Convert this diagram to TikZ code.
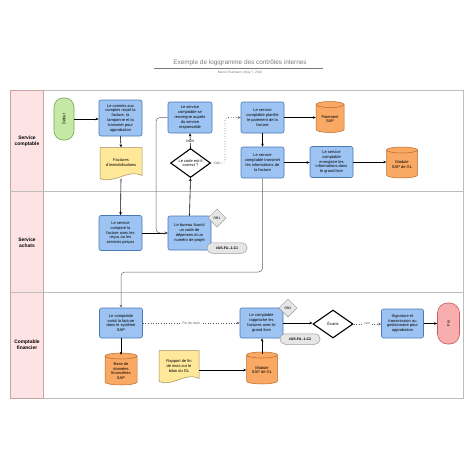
\documentclass[tikz,border=0pt]{standalone}
\usepackage{fontspec}
\setmainfont{Liberation Sans}
\usetikzlibrary{shapes.geometric,arrows.meta,calc}
\definecolor{procfill}{HTML}{9DC3F2}
\definecolor{procdraw}{HTML}{4A78B5}
\definecolor{docfill}{HTML}{FFE89A}
\definecolor{docdraw}{HTML}{9C8E5A}
\definecolor{cylfill}{HTML}{F9A964}
\definecolor{cyldraw}{HTML}{B86A2A}
\definecolor{startfill}{HTML}{C6E8A6}
\definecolor{startdraw}{HTML}{76A852}
\definecolor{endfill}{HTML}{F8AEAE}
\definecolor{enddraw}{HTML}{C85A5A}
\definecolor{lanefill}{HTML}{FDE3E3}
\definecolor{lanedraw}{HTML}{C9A3A3}
\definecolor{gridline}{HTML}{BDBDBD}
\definecolor{tagfill}{HTML}{E6E6E6}
\definecolor{tagdraw}{HTML}{9A9A9A}
\definecolor{titlegray}{HTML}{7A7A7A}
\newcommand\mydoc[6]{%
 \filldraw[docshape] ({#2-#4/2},{#3-#5/2}) -- ({#2+#4/2},{#3-#5/2}) -- ({#2+#4/2},{#3+#5/2-3})
   .. controls ({#2+#4/6},{#3+#5/2-10}) and ({#2-#4/6},{#3+#5/2+6}) .. ({#2-#4/2},{#3+#5/2}) -- cycle;
 \node[doctext,minimum width=#4pt,minimum height=#5pt] (#1) at (#2,#3) {#6};
}
\newcommand\mycyl[6]{%
 \filldraw[cylshape] ({#2-#4/2},{#3-#5/2+3}) -- ({#2-#4/2},{#3+#5/2-3})
   arc[start angle=180,end angle=360,x radius=#4pt/2,y radius=3pt] -- ({#2+#4/2},{#3-#5/2+3})
   arc[start angle=0,end angle=180,x radius=#4pt/2,y radius=3pt] -- cycle;
 \draw[cylshape,fill=none] ({#2-#4/2},{#3-#5/2+3}) arc[start angle=180,end angle=360,x radius=#4pt/2,y radius=3pt];
 \node[cyltext,minimum width=#4pt,minimum height=#5pt] (#1) at (#2,{#3+2}) {#6};
}
\begin{document}
\begin{tikzpicture}[x=1pt,y=-1pt,
  boxfont/.style={font=\fontsize{4.0}{4.8}\selectfont},
  proc/.style={boxfont,draw=procdraw,fill=procfill,line width=0.6pt,rounded corners=2pt,align=center,inner sep=0pt},
  docshape/.style={draw=docdraw,fill=docfill,line width=0.5pt},
  doctext/.style={boxfont,align=center,inner sep=0pt},
  cylshape/.style={draw=cyldraw,fill=cylfill,line width=0.5pt},
  cyltext/.style={boxfont,align=center,inner sep=0pt},
  decision/.style={boxfont,diamond,draw=black,fill=white,line width=1.1pt,aspect=1.4,align=center,inner sep=0pt},
  rb/.style={font=\fontsize{3.4}{4}\selectfont,diamond,draw=tagdraw,fill=tagfill,line width=0.5pt,minimum width=18pt,minimum height=18pt,inner sep=0pt},
  tag/.style={font=\bfseries\fontsize{3.6}{4}\selectfont,draw=tagdraw,fill=tagfill,line width=0.5pt,rounded corners=5pt,minimum width=40pt,minimum height=10.5pt,inner sep=0pt},
  term/.style={boxfont,line width=0.6pt,rounded corners=9pt,inner sep=0pt},
  arr/.style={-{Stealth[length=3pt,width=2.6pt]},line width=0.6pt,black},
  looparr/.style={-{Stealth[length=3pt,width=2.6pt]},line width=0.5pt,gray!75!black,rounded corners=4pt},
  dotarr/.style={-{Stealth[length=3pt,width=2.6pt]},line width=0.6pt,gray!70!black,dotted},
  lbl/.style={font=\fontsize{3.4}{4}\selectfont,fill=white,inner sep=0.6pt},
  lanelbl/.style={font=\bfseries\fontsize{4.9}{5.9}\selectfont,align=center}
]
\useasboundingbox (0,0) rectangle (474,474);
% title
\node[font=\fontsize{6.4}{7}\selectfont,text=titlegray] (title) at (240,63) {Exemple de logigramme des contrôles internes};
\draw[titlegray,line width=0.5pt] (154,68.5) -- (323,68.5);
\node[font=\fontsize{3.2}{4}\selectfont,text=titlegray] (sub) at (240,73) {Benoit Thalmann | May 7, 2016};
% lanes
\draw[gridline,line width=0.6pt] (10,90) rectangle (463,398);
\filldraw[fill=lanefill,draw=lanedraw,line width=0.5pt] (10,90) rectangle (43,398);
\draw[gridline,line width=0.6pt] (10,191) -- (463,191);
\draw[gridline,line width=0.6pt] (10,292) -- (463,292);
\node[lanelbl] (l1) at (27,141) {Service\\comptable};
\node[lanelbl] (l2) at (27,243) {Service\\achats};
\node[lanelbl] (l3) at (27,345) {Comptable\\financier};
% nodes
\node[term,draw=startdraw,fill=startfill,minimum width=20pt,minimum height=42pt] (debut) at (64,119) {\rotatebox{90}{Début}};
\node[proc,minimum width=43pt,minimum height=36pt] (box1) at (120.5,118) {Le commis aux\\comptes reçoit la\\facture, la\\tamponne et la\\transmet pour\\approbation};
\mydoc{doc1}{121}{163}{42}{31}{Factures\\d'immobilisations}
\node[proc,minimum width=43pt,minimum height=35pt] (compare) at (120.5,233) {Le service\\compare la\\facture avec les\\reçus ou les\\services perçus};
\node[proc,minimum width=43pt,minimum height=34pt] (bureau) at (189.5,233) {Le bureau fournit\\un code de\\dépenses et un\\numéro de projet};
\node[rb] (rb1) at (217,218) {RB1};
\node[tag] (tag1) at (227,248) {\#US.FA..1.C1};
\node[decision,minimum width=40pt,minimum height=29pt] (code) at (190.5,163) {Le code est-il\\correct ?};
\node[proc,minimum width=44pt,minimum height=31pt] (rens) at (190,117.5) {Le service\\comptable se\\renseigne auprès\\du service\\responsable};
\node[proc,minimum width=43pt,minimum height=31pt] (plan) at (262.5,117.5) {Le service\\comptable planifie\\le paiement de la\\facture};
\mycyl{paie}{330}{117}{28}{31}{Paiement\\SAP}
\node[proc,minimum width=43pt,minimum height=31pt] (trans) at (262.5,162.5) {Le service\\comptable transmet\\les informations de\\la facture};
\node[proc,minimum width=43pt,minimum height=31pt] (enreg) at (331.5,162) {Le service\\comptable\\enregistre les\\informations dans\\le grand livre};
\mycyl{mod1}{402}{162.5}{31}{31}{Module\\SAP de GL}
\node[proc,minimum width=43pt,minimum height=30pt] (saisit) at (121,323) {Le comptable\\saisit la facture\\dans le système\\SAP};
\mycyl{base}{121}{369}{32}{32}{Base de\\données\\financières\\SAP}
\mydoc{rapport}{179}{366}{40}{31}{Rapport de fin\\de mois sur le\\bilan du GL}
\mycyl{mod2}{262}{368}{31}{32}{Module\\SAP de GL}
\node[proc,minimum width=43pt,minimum height=30pt] (rappr) at (261.5,323) {Le comptable\\rapproche les\\factures avec le\\grand livre};
\node[rb] (rb2) at (288,308) {RB2};
\node[tag] (tag2) at (300,339) {\#US.FA..1.C2};
\node[decision,minimum width=40pt,minimum height=28pt] (ecarts) at (333,324) {Écarts};
\node[proc,minimum width=42pt,minimum height=29pt] (sign) at (402.5,323.5) {Signature et\\transmission au\\gestionnaire pour\\approbation};
\node[term,draw=enddraw,fill=endfill,minimum width=22pt,minimum height=41pt,rounded corners=10pt] (fin) at (448.5,323.5) {\rotatebox{90}{Fin}};
% connectors
\draw[arr] (debut.east) -- (debut.east -| box1.west);
\draw[arr] (box1.south) -- (doc1.north);
\draw[arr] (doc1.south) -- (compare.north);
\draw[arr] (compare.east) -- (bureau.west);
\draw[arr] (bureau.north) -- (code.south);
\draw[arr] (code.north) -- node[lbl,pos=0.45] {NON} (rens.south);
\coordinate (lx) at (156,0);
\draw[looparr] (rens.west) -- (rens.west -| lx) -- (bureau.west -| lx) -- (bureau.west);
\coordinate (ox) at (225,0);
\draw[dotarr,rounded corners=3pt] (code.east) -- node[lbl,pos=0.45] {OUI} (code.east -| ox) -- (plan.west -| ox) -- (plan.west);
\draw[arr] (plan.east) -- (plan.east -| paie.west);
\draw[arr] (plan.south) -- (trans.north);
\draw[arr] (trans.east) -- (trans.east -| enreg.west);
\draw[arr] (enreg.east) -- (enreg.east -| mod1.west);
\coordinate (ty) at (0,272);
\draw[looparr] (trans.south) -- (trans.south |- ty) -- (saisit.north |- ty) -- (saisit.north);
\draw[arr] (saisit.south) -- (base.north);
\draw[dotarr] (saisit.east) -- node[lbl] {Fin du mois} (rappr.west);
\draw[arr] (rapport.east |- mod2.west) -- (mod2.west);
\draw[arr] (mod2.north) -- (mod2.north |- rappr.south);
\draw[arr] (rappr.east) -- (rappr.east -| ecarts.west);
\draw[dotarr] (ecarts.east) -- node[lbl] {non} (ecarts.east -| sign.west);
\draw[arr] (sign.east) -- (sign.east -| fin.west);
\end{tikzpicture}
\end{document}
